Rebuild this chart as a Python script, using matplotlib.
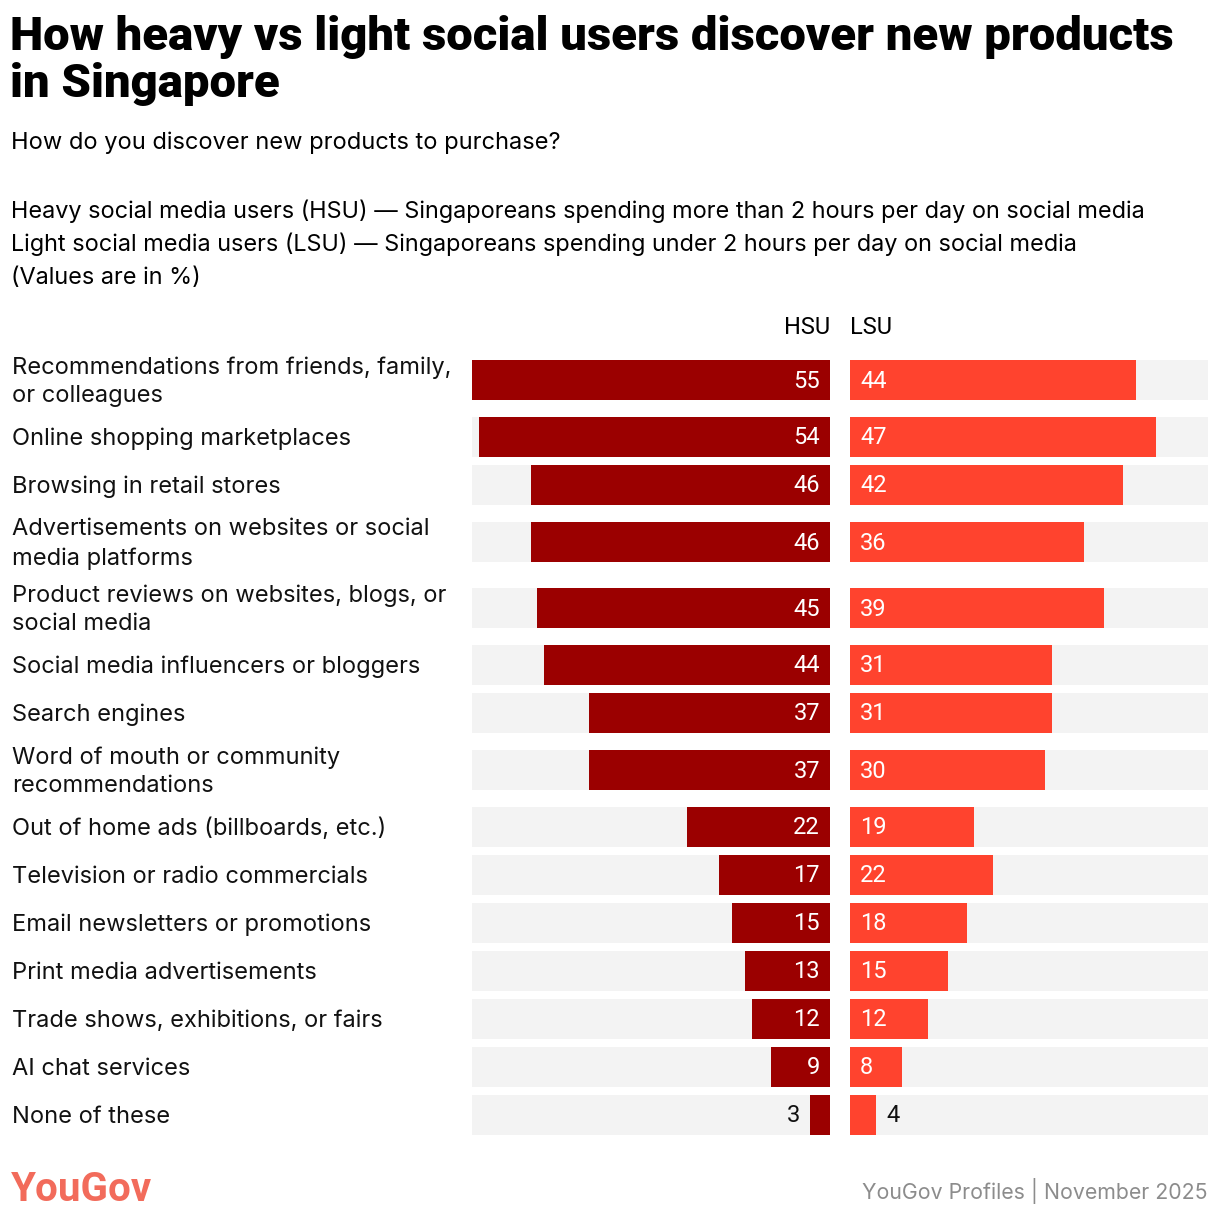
import matplotlib
matplotlib.use('Agg')
import matplotlib.pyplot as plt

# Дані
categories = [
    'Recommendations from friends, family,\nor colleagues',
    'Online shopping marketplaces',
    'Browsing in retail stores',
    'Advertisements on websites or social\nmedia platforms',
    'Product reviews on websites, blogs, or\nsocial media',
    'Social media influencers or bloggers',
    'Search engines',
    'Word of mouth or community\nrecommendations',
    'Out of home ads (billboards, etc.)',
    'Television or radio commercials',
    'Email newsletters or promotions',
    'Print media advertisements',
    'Trade shows, exhibitions, or fairs',
    'AI chat services',
    'None of these',
]
hsu = [55, 54, 46, 46, 45, 44, 37, 37, 22, 17, 15, 13, 12, 9, 3]
lsu = [44, 47, 42, 36, 39, 31, 31, 30, 19, 22, 18, 15, 12, 8, 4]
series_names = ['HSU', 'LSU']

title_lines = ['How heavy vs light social users discover new products', 'in Singapore']
question = 'How do you discover new products to purchase?'
notes = ['Heavy social media users (HSU) — Singaporeans spending more than 2 hours per day on social media',
         'Light social media users (LSU) — Singaporeans spending under 2 hours per day on social media',
         '(Values are in %)']
source = 'YouGov Profiles | November 2025'

DARK = '#9b0000'
LIGHT = '#ff432e'
BG = '#f3f3f3'

W, H = 1220, 1222
fig = plt.figure(figsize=(W / 100, H / 100), dpi=100)


def fx(px):
    return px / W


def fy(py):
    return 1 - py / H


TEXT_FONT = ['Inter', 'DejaVu Sans']
NUM_FONT = ['Roboto', 'DejaVu Sans']

# Висоти рядків: дворядкові підписи займають більше місця
top = 347
centers = []
y = top
for lab in categories:
    h = 48 + 18 * lab.count('\n')
    centers.append(y + h / 2)
    y += h
bottom = y
xmax = 55

ax_h = fig.add_axes([fx(472), fy(bottom), fx(830) - fx(472), (bottom - top) / H])
ax_l = fig.add_axes([fx(850), fy(bottom), fx(1208) - fx(850), (bottom - top) / H])

for ax, vals, color, sign in [(ax_h, hsu, DARK, -1), (ax_l, lsu, LIGHT, 1)]:
    ax.barh(centers, [xmax] * len(vals), height=40, color=BG)
    ax.barh(centers, vals, height=40, color=color)
    ax.set_ylim(bottom, top)
    ax.set_xlim(0, xmax)
    ax.axis('off')
    for c, v in zip(centers, vals):
        inside = v >= 5
        ax.annotate(str(v), (0 if inside else v, c), xytext=(10 * sign, -1),
                    textcoords='offset pixels',
                    ha='left' if sign > 0 else 'right', va='center',
                    color='white' if inside else '#111111', fontsize=17, family=NUM_FONT)
ax_h.invert_xaxis()

# Підписи категорій
for c, lab in zip(centers, categories):
    fig.text(fx(12), fy(c + 2), lab, ha='left', va='center', fontsize=17,
             family=TEXT_FONT, color='#111111', linespacing=1.38)

# Заголовки серій
fig.text(fx(830), fy(328), series_names[0], ha='right', va='center', fontsize=17, family=NUM_FONT)
fig.text(fx(850), fy(328), series_names[1], ha='left', va='center', fontsize=17, family=NUM_FONT)

# Заголовок і пояснення
for i, line in enumerate(title_lines):
    fig.text(fx(10), fy(50 + 47 * i), line, ha='left', va='baseline', fontsize=34,
             fontweight='black', family=['Roboto', 'DejaVu Sans'])
fig.text(fx(11), fy(143), question, ha='left', va='center', fontsize=17, family=TEXT_FONT)
for i, line in enumerate(notes):
    fig.text(fx(11), fy(211 + 33.5 * i), line, ha='left', va='center', fontsize=16.9, family=TEXT_FONT)

# Підвал
fig.text(fx(11), fy(1190), 'YouGov', ha='left', va='center', fontsize=29, fontweight='bold',
         color='#f26b5b', family=['Roboto', 'DejaVu Sans'])
fig.text(fx(1208), fy(1191), source, ha='right', va='center', fontsize=15.3, color='#8c8c8c',
         family=TEXT_FONT)

fig.savefig('out.png', dpi=100, facecolor='white')
